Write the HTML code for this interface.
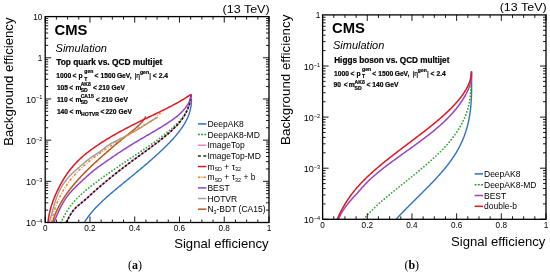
<!DOCTYPE html>
<html><head><meta charset="utf-8"><title>CMS ROC curves</title>
<style>
html,body{margin:0;padding:0;background:#fff;}
body{width:550px;height:273px;overflow:hidden;}
svg{display:block;}
text{font-family:'Liberation Sans', Arial, Helvetica, sans-serif;fill:#000;}
.serif{font-family:'Liberation Serif','Times New Roman',serif;}
.ib{stroke:#000;stroke-width:0.2px;}
.tb{stroke:#000;stroke-width:0.2px;}
</style></head><body>
<svg width="550" height="273" viewBox="0 0 550 273">
<rect width="550" height="273" fill="#fff"/>
<path d="M84.43,222.50 L84.83,221.80 L85.24,221.10 L85.67,220.40 L86.12,219.70 L86.58,219.00 L87.05,218.30 L87.54,217.60 L88.04,216.90 L88.55,216.20 L89.08,215.50 L89.62,214.80 L90.18,214.10 L90.74,213.40 L91.32,212.70 L91.91,212.00 L92.51,211.30 L93.13,210.60 L93.75,209.90 L94.38,209.20 L95.03,208.50 L95.69,207.80 L96.35,207.10 L97.03,206.40 L97.71,205.70 L98.41,205.00 L99.11,204.30 L99.82,203.60 L100.54,202.90 L101.27,202.20 L102.01,201.50 L102.76,200.80 L103.51,200.10 L104.27,199.40 L105.03,198.70 L105.81,198.00 L106.59,197.30 L107.37,196.60 L108.16,195.90 L108.96,195.20 L109.76,194.50 L110.57,193.80 L111.39,193.10 L112.20,192.40 L113.02,191.70 L113.85,191.00 L114.68,190.30 L115.51,189.60 L116.35,188.90 L117.19,188.20 L118.03,187.50 L118.88,186.80 L119.73,186.10 L120.58,185.40 L121.43,184.70 L122.29,184.00 L123.14,183.30 L124.00,182.60 L124.86,181.90 L125.72,181.20 L126.58,180.50 L127.44,179.80 L128.30,179.10 L129.16,178.40 L130.01,177.70 L130.87,177.00 L131.73,176.30 L132.59,175.60 L133.44,174.90 L134.30,174.20 L135.15,173.50 L136.00,172.80 L136.85,172.10 L137.69,171.40 L138.54,170.70 L139.38,170.00 L140.21,169.30 L141.05,168.60 L141.88,167.90 L142.71,167.20 L143.53,166.50 L144.36,165.80 L145.18,165.10 L145.99,164.40 L146.81,163.70 L147.62,163.00 L148.43,162.30 L149.23,161.60 L150.03,160.90 L150.83,160.20 L151.62,159.50 L152.41,158.80 L153.20,158.10 L153.99,157.40 L154.77,156.70 L155.54,156.00 L156.32,155.30 L157.08,154.60 L157.85,153.90 L158.61,153.20 L159.37,152.50 L160.12,151.80 L160.87,151.10 L161.61,150.40 L162.35,149.70 L163.08,149.00 L163.81,148.30 L164.53,147.60 L165.25,146.90 L165.96,146.20 L166.66,145.50 L167.36,144.80 L168.05,144.10 L168.73,143.40 L169.41,142.70 L170.08,142.00 L170.74,141.30 L171.40,140.60 L172.05,139.90 L172.69,139.20 L173.32,138.50 L173.94,137.80 L174.56,137.10 L175.17,136.40 L175.77,135.70 L176.36,135.00 L176.94,134.30 L177.51,133.60 L178.07,132.90 L178.62,132.20 L179.17,131.50 L179.70,130.80 L180.22,130.10 L180.73,129.40 L181.23,128.70 L181.73,128.00 L182.21,127.30 L182.67,126.60 L183.13,125.90 L183.58,125.20 L184.01,124.50 L184.43,123.80 L184.85,123.10 L185.24,122.40 L185.63,121.70 L186.00,121.00 L186.36,120.30 L186.71,119.60 L187.05,118.90 L187.37,118.20 L187.68,117.50 L187.98,116.80 L188.26,116.10 L188.53,115.40 L188.79,114.70 L189.04,114.00 L189.27,113.30 L189.49,112.60 L189.70,111.90 L189.90,111.20 L190.08,110.50 L190.26,109.80 L190.42,109.10 L190.56,108.40 L190.70,107.70 L190.82,107.00 L190.93,106.30 L191.03,105.60 L191.12,104.90 L191.20,104.20 L191.26,103.50 L191.31,102.80 L191.35,102.10 L191.38,101.40 L191.40,100.70 L191.41,100.00 L191.40,99.30 L191.38,98.60 L191.35,97.90 L191.31,97.20 L191.26,96.50 L191.19,95.80 L191.12,95.10 L191.03,94.40" stroke="#2f72c0" stroke-width="1.4" fill="none" stroke-linejoin="round" stroke-linecap="butt"/>
<path d="M61.03,222.50 L61.38,221.80 L61.72,221.10 L62.06,220.40 L62.41,219.70 L62.75,219.00 L63.10,218.30 L63.45,217.60 L63.81,216.90 L64.17,216.20 L64.53,215.50 L64.91,214.80 L65.28,214.10 L65.67,213.40 L66.07,212.70 L66.47,212.00 L66.88,211.30 L67.30,210.60 L67.74,209.90 L68.18,209.20 L68.64,208.50 L69.12,207.80 L69.60,207.10 L70.10,206.40 L70.62,205.70 L71.15,205.00 L71.70,204.30 L72.26,203.60 L72.85,202.90 L73.45,202.20 L74.07,201.50 L74.70,200.80 L75.35,200.10 L76.02,199.40 L76.70,198.70 L77.39,198.00 L78.10,197.30 L78.83,196.60 L79.56,195.90 L80.32,195.20 L81.08,194.50 L81.86,193.80 L82.64,193.10 L83.44,192.40 L84.26,191.70 L85.08,191.00 L85.91,190.30 L86.75,189.60 L87.61,188.90 L88.47,188.20 L89.34,187.50 L90.22,186.80 L91.11,186.10 L92.00,185.40 L92.91,184.70 L93.82,184.00 L94.73,183.30 L95.66,182.60 L96.59,181.90 L97.52,181.20 L98.47,180.50 L99.42,179.80 L100.37,179.10 L101.33,178.40 L102.30,177.70 L103.27,177.00 L104.25,176.30 L105.23,175.60 L106.22,174.90 L107.21,174.20 L108.21,173.50 L109.21,172.80 L110.21,172.10 L111.22,171.40 L112.24,170.70 L113.25,170.00 L114.27,169.30 L115.30,168.60 L116.32,167.90 L117.35,167.20 L118.38,166.50 L119.42,165.80 L120.45,165.10 L121.49,164.40 L122.53,163.70 L123.58,163.00 L124.62,162.30 L125.67,161.60 L126.71,160.90 L127.76,160.20 L128.81,159.50 L129.86,158.80 L130.91,158.10 L131.96,157.40 L133.01,156.70 L134.06,156.00 L135.11,155.30 L136.16,154.60 L137.21,153.90 L138.26,153.20 L139.30,152.50 L140.35,151.80 L141.39,151.10 L142.43,150.40 L143.46,149.70 L144.49,149.00 L145.52,148.30 L146.55,147.60 L147.57,146.90 L148.58,146.20 L149.59,145.50 L150.60,144.80 L151.60,144.10 L152.59,143.40 L153.58,142.70 L154.57,142.00 L155.54,141.30 L156.51,140.60 L157.47,139.90 L158.42,139.20 L159.37,138.50 L160.30,137.80 L161.23,137.10 L162.15,136.40 L163.06,135.70 L163.96,135.00 L164.85,134.30 L165.73,133.60 L166.60,132.90 L167.45,132.20 L168.30,131.50 L169.14,130.80 L169.96,130.10 L170.77,129.40 L171.57,128.70 L172.36,128.00 L173.13,127.30 L173.89,126.60 L174.63,125.90 L175.36,125.20 L176.08,124.50 L176.78,123.80 L177.47,123.10 L178.14,122.40 L178.80,121.70 L179.44,121.00 L180.06,120.30 L180.67,119.60 L181.26,118.90 L181.83,118.20 L182.38,117.50 L182.92,116.80 L183.44,116.10 L183.94,115.40 L184.43,114.70 L184.90,114.00 L185.35,113.30 L185.78,112.60 L186.19,111.90 L186.59,111.20 L186.97,110.50 L187.34,109.80 L187.68,109.10 L188.01,108.40 L188.32,107.70 L188.61,107.00 L188.89,106.30 L189.14,105.60 L189.38,104.90 L189.60,104.20 L189.81,103.50 L190.00,102.80 L190.17,102.10 L190.32,101.40 L190.45,100.70 L190.57,100.00 L190.67,99.30 L190.75,98.60 L190.82,97.90 L190.86,97.20 L190.89,96.50 L190.90,95.80 L190.90,95.10 L190.87,94.40" stroke="#2aa52a" stroke-width="1.8" fill="none" stroke-linejoin="round" stroke-linecap="round" stroke-dasharray="0 3.2"/>
<path d="M66.12,222.50 L66.52,221.80 L66.91,221.10 L67.29,220.40 L67.67,219.70 L68.04,219.00 L68.41,218.30 L68.78,217.60 L69.16,216.90 L69.55,216.20 L69.94,215.50 L70.35,214.80 L70.77,214.10 L71.21,213.40 L71.67,212.70 L72.16,212.00 L72.67,211.30 L73.21,210.60 L73.78,209.90 L74.38,209.20 L75.02,208.50 L75.70,207.80 L76.42,207.10 L77.18,206.40 L78.00,205.70 L78.85,205.00 L79.72,204.30 L80.60,203.60 L81.46,202.90 L82.31,202.20 L83.14,201.50 L83.96,200.80 L84.77,200.10 L85.56,199.40 L86.35,198.70 L87.13,198.00 L87.90,197.30 L88.67,196.60 L89.44,195.90 L90.20,195.20 L90.97,194.50 L91.74,193.80 L92.51,193.10 L93.28,192.40 L94.06,191.70 L94.85,191.00 L95.64,190.30 L96.43,189.60 L97.23,188.90 L98.03,188.20 L98.83,187.50 L99.64,186.80 L100.45,186.10 L101.27,185.40 L102.09,184.70 L102.91,184.00 L103.74,183.30 L104.57,182.60 L105.41,181.90 L106.25,181.20 L107.10,180.50 L107.94,179.80 L108.80,179.10 L109.65,178.40 L110.51,177.70 L111.37,177.00 L112.24,176.30 L113.11,175.60 L113.99,174.90 L114.87,174.20 L115.75,173.50 L116.64,172.80 L117.53,172.10 L118.42,171.40 L119.32,170.70 L120.22,170.00 L121.12,169.30 L122.03,168.60 L122.94,167.90 L123.86,167.20 L124.78,166.50 L125.70,165.80 L126.63,165.10 L127.56,164.40 L128.49,163.70 L129.43,163.00 L130.37,162.30 L131.31,161.60 L132.26,160.90 L133.21,160.20 L134.16,159.50 L135.12,158.80 L136.08,158.10 L137.04,157.40 L138.00,156.70 L138.97,156.00 L139.93,155.30 L140.90,154.60 L141.86,153.90 L142.83,153.20 L143.79,152.50 L144.75,151.80 L145.72,151.10 L146.68,150.40 L147.63,149.70 L148.59,149.00 L149.54,148.30 L150.49,147.60 L151.44,146.90 L152.38,146.20 L153.32,145.50 L154.25,144.80 L155.18,144.10 L156.10,143.40 L157.02,142.70 L157.93,142.00 L158.84,141.30 L159.74,140.60 L160.63,139.90 L161.51,139.20 L162.39,138.50 L163.25,137.80 L164.11,137.10 L164.96,136.40 L165.80,135.70 L166.63,135.00 L167.45,134.30 L168.26,133.60 L169.06,132.90 L169.85,132.20 L170.63,131.50 L171.39,130.80 L172.14,130.10 L172.88,129.40 L173.61,128.70 L174.32,128.00 L175.02,127.30 L175.71,126.60 L176.38,125.90 L177.04,125.20 L177.68,124.50 L178.30,123.80 L178.91,123.10 L179.50,122.40 L180.08,121.70 L180.64,121.00 L181.18,120.30 L181.71,119.60 L182.21,118.90 L182.70,118.20 L183.18,117.50 L183.63,116.80 L184.08,116.10 L184.50,115.40 L184.91,114.70 L185.30,114.00 L185.68,113.30 L186.04,112.60 L186.39,111.90 L186.72,111.20 L187.04,110.50 L187.35,109.80 L187.64,109.10 L187.92,108.40 L188.18,107.70 L188.43,107.00 L188.67,106.30 L188.90,105.60 L189.11,104.90 L189.31,104.20 L189.50,103.50 L189.68,102.80 L189.85,102.10 L190.00,101.40 L190.15,100.70 L190.28,100.00 L190.41,99.30 L190.52,98.60 L190.62,97.90 L190.72,97.20 L190.81,96.50 L190.88,95.80 L190.95,95.10 L191.01,94.40" stroke="#f283c4" stroke-width="1.6" fill="none" stroke-linejoin="round" stroke-linecap="butt"/>
<path d="M66.12,222.50 L66.52,221.80 L66.91,221.10 L67.29,220.40 L67.67,219.70 L68.04,219.00 L68.41,218.30 L68.78,217.60 L69.16,216.90 L69.55,216.20 L69.94,215.50 L70.35,214.80 L70.77,214.10 L71.21,213.40 L71.67,212.70 L72.16,212.00 L72.67,211.30 L73.21,210.60 L73.78,209.90 L74.38,209.20 L75.02,208.50 L75.70,207.80 L76.42,207.10 L77.18,206.40 L78.00,205.70 L78.85,205.00 L79.72,204.30 L80.60,203.60 L81.46,202.90 L82.31,202.20 L83.14,201.50 L83.96,200.80 L84.77,200.10 L85.56,199.40 L86.35,198.70 L87.13,198.00 L87.90,197.30 L88.67,196.60 L89.44,195.90 L90.20,195.20 L90.97,194.50 L91.74,193.80 L92.51,193.10 L93.28,192.40 L94.06,191.70 L94.85,191.00 L95.64,190.30 L96.43,189.60 L97.23,188.90 L98.03,188.20 L98.83,187.50 L99.64,186.80 L100.45,186.10 L101.27,185.40 L102.09,184.70 L102.91,184.00 L103.74,183.30 L104.57,182.60 L105.41,181.90 L106.25,181.20 L107.10,180.50 L107.94,179.80 L108.80,179.10 L109.65,178.40 L110.51,177.70 L111.37,177.00 L112.24,176.30 L113.11,175.60 L113.99,174.90 L114.87,174.20 L115.75,173.50 L116.64,172.80 L117.53,172.10 L118.42,171.40 L119.32,170.70 L120.22,170.00 L121.12,169.30 L122.03,168.60 L122.94,167.90 L123.86,167.20 L124.78,166.50 L125.70,165.80 L126.63,165.10 L127.56,164.40 L128.49,163.70 L129.43,163.00 L130.37,162.30 L131.31,161.60 L132.26,160.90 L133.21,160.20 L134.16,159.50 L135.12,158.80 L136.08,158.10 L137.04,157.40 L138.00,156.70 L138.97,156.00 L139.93,155.30 L140.90,154.60 L141.86,153.90 L142.83,153.20 L143.79,152.50 L144.75,151.80 L145.72,151.10 L146.68,150.40 L147.63,149.70 L148.59,149.00 L149.54,148.30 L150.49,147.60 L151.44,146.90 L152.38,146.20 L153.32,145.50 L154.25,144.80 L155.18,144.10 L156.10,143.40 L157.02,142.70 L157.93,142.00 L158.84,141.30 L159.74,140.60 L160.63,139.90 L161.51,139.20 L162.39,138.50 L163.25,137.80 L164.11,137.10 L164.96,136.40 L165.80,135.70 L166.63,135.00 L167.45,134.30 L168.26,133.60 L169.06,132.90 L169.85,132.20 L170.63,131.50 L171.39,130.80 L172.14,130.10 L172.88,129.40 L173.61,128.70 L174.32,128.00 L175.02,127.30 L175.71,126.60 L176.38,125.90 L177.04,125.20 L177.68,124.50 L178.30,123.80 L178.91,123.10 L179.50,122.40 L180.08,121.70 L180.64,121.00 L181.18,120.30 L181.71,119.60 L182.21,118.90 L182.70,118.20 L183.18,117.50 L183.63,116.80 L184.08,116.10 L184.50,115.40 L184.91,114.70 L185.30,114.00 L185.68,113.30 L186.04,112.60 L186.39,111.90 L186.72,111.20 L187.04,110.50 L187.35,109.80 L187.64,109.10 L187.92,108.40 L188.18,107.70 L188.43,107.00 L188.67,106.30 L188.90,105.60 L189.11,104.90 L189.31,104.20 L189.50,103.50 L189.68,102.80 L189.85,102.10 L190.00,101.40 L190.15,100.70 L190.28,100.00 L190.41,99.30 L190.52,98.60 L190.62,97.90 L190.72,97.20 L190.81,96.50 L190.88,95.80 L190.95,95.10 L191.01,94.40" stroke="#111" stroke-width="1.6" fill="none" stroke-linejoin="round" stroke-linecap="butt" stroke-dasharray="2.3 1.8"/>
<path d="M53.74,222.50 L54.05,221.80 L54.36,221.10 L54.66,220.40 L54.96,219.70 L55.26,219.00 L55.57,218.30 L55.87,217.60 L56.17,216.90 L56.47,216.20 L56.77,215.50 L57.07,214.80 L57.38,214.10 L57.69,213.40 L58.00,212.70 L58.31,212.00 L58.63,211.30 L58.96,210.60 L59.28,209.90 L59.62,209.20 L59.96,208.50 L60.30,207.80 L60.65,207.10 L61.01,206.40 L61.38,205.70 L61.76,205.00 L62.14,204.30 L62.53,203.60 L62.93,202.90 L63.35,202.20 L63.77,201.50 L64.20,200.80 L64.65,200.10 L65.10,199.40 L65.57,198.70 L66.06,198.00 L66.55,197.30 L67.06,196.60 L67.58,195.90 L68.12,195.20 L68.67,194.50 L69.24,193.80 L69.82,193.10 L70.42,192.40 L71.04,191.70 L71.67,191.00 L72.32,190.30 L72.99,189.60 L73.67,188.90 L74.35,188.20 L75.05,187.50 L75.77,186.80 L76.48,186.10 L77.21,185.40 L77.94,184.70 L78.68,184.00 L79.43,183.30 L80.17,182.60 L80.92,181.90 L81.67,181.20 L82.42,180.50 L83.17,179.80 L83.92,179.10 L84.68,178.40 L85.44,177.70 L86.20,177.00 L86.97,176.30 L87.75,175.60 L88.54,174.90 L89.34,174.20 L90.15,173.50 L90.97,172.80 L91.80,172.10 L92.65,171.40 L93.51,170.70 L94.39,170.00 L95.28,169.30 L96.20,168.60 L97.12,167.90 L98.06,167.20 L99.02,166.50 L99.98,165.80 L100.96,165.10 L101.94,164.40 L102.94,163.70 L103.94,163.00 L104.95,162.30 L105.96,161.60 L106.98,160.90 L108.00,160.20 L109.03,159.50 L110.05,158.80 L111.08,158.10 L112.10,157.40 L113.13,156.70 L114.15,156.00 L115.18,155.30 L116.21,154.60 L117.24,153.90 L118.27,153.20 L119.31,152.50 L120.36,151.80 L121.42,151.10 L122.48,150.40 L123.56,149.70 L124.64,149.00 L125.73,148.30 L126.83,147.60 L127.94,146.90 L129.06,146.20 L130.19,145.50 L131.33,144.80 L132.47,144.10 L133.62,143.40 L134.78,142.70 L135.94,142.00 L137.11,141.30 L138.28,140.60 L139.46,139.90 L140.65,139.20 L141.83,138.50 L143.03,137.80 L144.22,137.10 L145.42,136.40 L146.63,135.70 L147.83,135.00 L149.03,134.30 L150.24,133.60 L151.44,132.90 L152.64,132.20 L153.84,131.50 L155.03,130.80 L156.22,130.10 L157.40,129.40 L158.57,128.70 L159.73,128.00 L160.89,127.30 L162.03,126.60 L163.16,125.90 L164.28,125.20 L165.39,124.50 L166.48,123.80 L167.55,123.10 L168.61,122.40 L169.65,121.70 L170.67,121.00 L171.67,120.30 L172.65,119.60 L173.61,118.90 L174.55,118.20 L175.46,117.50 L176.35,116.80 L177.21,116.10 L178.05,115.40 L178.85,114.70 L179.64,114.00 L180.39,113.30 L181.12,112.60 L181.83,111.90 L182.50,111.20 L183.16,110.50 L183.78,109.80 L184.38,109.10 L184.95,108.40 L185.50,107.70 L186.02,107.00 L186.52,106.30 L186.99,105.60 L187.43,104.90 L187.85,104.20 L188.24,103.50 L188.60,102.80 L188.94,102.10 L189.26,101.40 L189.55,100.70 L189.81,100.00 L190.05,99.30 L190.26,98.60 L190.45,97.90 L190.61,97.20 L190.74,96.50 L190.85,95.80 L190.94,95.10 L191.00,94.40" stroke="#9445c4" stroke-width="1.5" fill="none" stroke-linejoin="round" stroke-linecap="butt"/>
<path d="M52.61,222.50 L52.79,221.80 L52.97,221.10 L53.17,220.40 L53.37,219.70 L53.58,219.00 L53.80,218.30 L54.03,217.60 L54.27,216.90 L54.51,216.20 L54.77,215.50 L55.03,214.80 L55.30,214.10 L55.58,213.40 L55.87,212.70 L56.17,212.00 L56.47,211.30 L56.79,210.60 L57.11,209.90 L57.44,209.20 L57.77,208.50 L58.12,207.80 L58.47,207.10 L58.83,206.40 L59.20,205.70 L59.58,205.00 L59.96,204.30 L60.35,203.60 L60.75,202.90 L61.16,202.20 L61.57,201.50 L62.00,200.80 L62.43,200.10 L62.86,199.40 L63.31,198.70 L63.76,198.00 L64.22,197.30 L64.69,196.60 L65.16,195.90 L65.64,195.20 L66.13,194.50 L66.63,193.80 L67.13,193.10 L67.64,192.40 L68.16,191.70 L68.68,191.00 L69.21,190.30 L69.75,189.60 L70.29,188.90 L70.84,188.20 L71.40,187.50 L71.96,186.80 L72.54,186.10 L73.11,185.40 L73.70,184.70 L74.29,184.00 L74.88,183.30 L75.49,182.60 L76.10,181.90 L76.71,181.20 L77.33,180.50 L77.96,179.80 L78.60,179.10 L79.24,178.40 L79.88,177.70 L80.54,177.00 L81.20,176.30 L81.86,175.60 L82.53,174.90 L83.21,174.20 L83.89,173.50 L84.58,172.80 L85.27,172.10 L85.97,171.40 L86.67,170.70 L87.38,170.00 L88.10,169.30 L88.82,168.60 L89.54,167.90 L90.27,167.20 L91.00,166.50 L91.74,165.80 L92.48,165.10 L93.23,164.40 L93.98,163.70 L94.73,163.00 L95.49,162.30 L96.25,161.60 L97.02,160.90 L97.78,160.20 L98.56,159.50 L99.33,158.80 L100.11,158.10 L100.89,157.40 L101.67,156.70 L102.46,156.00 L103.25,155.30 L104.04,154.60 L104.83,153.90 L105.63,153.20 L106.43,152.50 L107.23,151.80 L108.03,151.10 L108.83,150.40 L109.64,149.70 L110.45,149.00 L111.26,148.30 L112.07,147.60 L112.88,146.90 L113.70,146.20 L114.52,145.50 L115.35,144.80 L116.18,144.10 L117.01,143.40 L117.85,142.70 L118.69,142.00 L119.54,141.30 L120.39,140.60 L121.24,139.90 L122.10,139.20 L122.97,138.50 L123.84,137.80 L124.71,137.10 L125.59,136.40 L126.47,135.70 L127.34,135.00 L128.22,134.30 L129.10,133.60 L129.97,132.90 L130.84,132.20 L131.70,131.50 L132.56,130.80 L133.41,130.10 L134.24,129.40 L135.07,128.70 L135.88,128.00 L136.67,127.30 L137.44,126.60 L138.20,125.90 L138.93,125.20 L139.64,124.50 L140.32,123.80 L140.98,123.10 L141.61,122.40 L142.20,121.70 L142.77,121.00 L143.30,120.30 L143.79,119.60 L144.24,118.90 L144.66,118.20 L145.03,117.50 L145.36,116.80 L145.65,116.10 L145.65,116.10" stroke="#b8561e" stroke-width="1.5" fill="none" stroke-linejoin="round" stroke-linecap="butt"/>
<path d="M49.07,222.50 L49.32,221.80 L49.56,221.10 L49.80,220.40 L50.02,219.70 L50.25,219.00 L50.47,218.30 L50.68,217.60 L50.89,216.90 L51.10,216.20 L51.30,215.50 L51.50,214.80 L51.70,214.10 L51.90,213.40 L52.09,212.70 L52.28,212.00 L52.48,211.30 L52.67,210.60 L52.86,209.90 L53.05,209.20 L53.24,208.50 L53.43,207.80 L53.62,207.10 L53.82,206.40 L54.02,205.70 L54.22,205.00 L54.42,204.30 L54.63,203.60 L54.84,202.90 L55.05,202.20 L55.27,201.50 L55.49,200.80 L55.72,200.10 L55.96,199.40 L56.20,198.70 L56.44,198.00 L56.70,197.30 L56.96,196.60 L57.23,195.90 L57.50,195.20 L57.79,194.50 L58.08,193.80 L58.38,193.10 L58.70,192.40 L59.02,191.70 L59.35,191.00 L59.69,190.30 L60.05,189.60 L60.42,188.90 L60.79,188.20 L61.18,187.50 L61.59,186.80 L62.00,186.10 L62.43,185.40 L62.88,184.70 L63.34,184.00 L63.81,183.30 L64.30,182.60 L64.80,181.90 L65.32,181.20 L65.85,180.50 L66.41,179.80 L66.98,179.10 L67.56,178.40 L68.17,177.70 L68.79,177.00 L69.43,176.30 L70.09,175.60 L70.77,174.90 L71.47,174.20 L72.18,173.50 L72.91,172.80 L73.66,172.10 L74.42,171.40 L75.19,170.70 L75.97,170.00 L76.76,169.30 L77.56,168.60 L78.37,167.90 L79.18,167.20 L80.00,166.50 L80.81,165.80 L81.63,165.10 L82.45,164.40 L83.27,163.70 L84.09,163.00 L84.91,162.30 L85.75,161.60 L86.60,160.90 L87.46,160.20 L88.35,159.50 L89.27,158.80 L90.21,158.10 L91.20,157.40 L92.23,156.70 L93.29,156.00 L94.37,155.30 L95.46,154.60 L96.56,153.90 L97.65,153.20 L98.72,152.50 L99.76,151.80 L100.76,151.10 L101.72,150.40 L102.61,149.70 L103.45,149.00 L104.27,148.30 L105.09,147.60 L105.95,146.90 L106.88,146.20 L107.88,145.50 L108.96,144.80 L110.12,144.10 L111.33,143.40 L112.59,142.70 L113.90,142.00 L115.24,141.30 L116.62,140.60 L118.01,139.90 L119.41,139.20 L120.82,138.50 L122.23,137.80 L123.63,137.10 L125.02,136.40 L126.40,135.70 L127.77,135.00 L129.12,134.30 L130.45,133.60 L131.76,132.90 L133.05,132.20 L134.30,131.50 L135.53,130.80 L136.73,130.10 L137.90,129.40 L139.04,128.70 L140.16,128.00 L141.26,127.30 L142.35,126.60 L143.43,125.90 L144.51,125.20 L145.59,124.50 L146.68,123.80 L147.78,123.10 L148.89,122.40 L150.02,121.70 L151.18,121.00 L152.37,120.30 L153.59,119.60 L154.85,118.90 L156.15,118.20 L157.30,117.60" stroke="#a0a0a0" stroke-width="1.5" fill="none" stroke-linejoin="round" stroke-linecap="round"/>
<path d="M51.44,222.50 L51.58,221.80 L51.71,221.10 L51.86,220.40 L52.00,219.70 L52.15,219.00 L52.31,218.30 L52.47,217.60 L52.63,216.90 L52.80,216.20 L52.97,215.50 L53.15,214.80 L53.34,214.10 L53.53,213.40 L53.72,212.70 L53.92,212.00 L54.12,211.30 L54.33,210.60 L54.55,209.90 L54.77,209.20 L55.00,208.50 L55.23,207.80 L55.47,207.10 L55.72,206.40 L55.97,205.70 L56.23,205.00 L56.49,204.30 L56.76,203.60 L57.04,202.90 L57.32,202.20 L57.61,201.50 L57.91,200.80 L58.21,200.10 L58.52,199.40 L58.84,198.70 L59.17,198.00 L59.50,197.30 L59.84,196.60 L60.19,195.90 L60.54,195.20 L60.91,194.50 L61.28,193.80 L61.66,193.10 L62.04,192.40 L62.44,191.70 L62.84,191.00 L63.25,190.30 L63.67,189.60 L64.10,188.90 L64.54,188.20 L64.99,187.50 L65.44,186.80 L65.90,186.10 L66.38,185.40 L66.86,184.70 L67.35,184.00 L67.85,183.30 L68.36,182.60 L68.87,181.90 L69.40,181.20 L69.94,180.50 L70.49,179.80 L71.04,179.10 L71.61,178.40 L72.19,177.70 L72.78,177.00 L73.38,176.30 L73.99,175.60 L74.61,174.90 L75.24,174.20 L75.88,173.50 L76.54,172.80 L77.20,172.10 L77.88,171.40 L78.58,170.70 L79.28,170.00 L80.00,169.30 L80.73,168.60 L81.47,167.90 L82.22,167.20 L82.99,166.50 L83.78,165.80 L84.57,165.10 L85.38,164.40 L86.21,163.70 L87.05,163.00 L87.90,162.30 L88.76,161.60 L89.64,160.90 L90.53,160.20 L91.43,159.50 L92.34,158.80 L93.26,158.10 L94.19,157.40 L95.13,156.70 L96.08,156.00 L97.04,155.30 L98.00,154.60 L98.97,153.90 L99.94,153.20 L100.92,152.50 L101.91,151.80 L102.90,151.10 L103.89,150.40 L104.88,149.70 L105.89,149.00 L106.91,148.30 L107.95,147.60 L109.02,146.90 L110.11,146.20 L111.23,145.50 L112.36,144.80 L113.50,144.10 L114.65,143.40 L115.81,142.70 L116.96,142.00 L118.12,141.30 L119.26,140.60 L120.40,139.90 L121.52,139.20 L122.63,138.50 L123.72,137.80 L124.80,137.10 L125.88,136.40 L126.95,135.70 L128.01,135.00 L129.08,134.30 L130.14,133.60 L131.22,132.90 L132.29,132.20 L133.38,131.50 L134.48,130.80 L135.60,130.10 L136.73,129.40 L137.88,128.70 L139.06,128.00 L140.26,127.30 L141.48,126.60 L142.74,125.90 L144.02,125.20 L145.32,124.50 L146.62,123.80 L147.90,123.10 L149.16,122.40 L150.37,121.70 L151.54,121.00 L152.63,120.30 L153.64,119.60 L154.55,118.90 L155.36,118.20 L156.04,117.50 L156.59,116.80 L157.08,116.10 L157.61,115.40 L158.29,114.70 L159.24,114.00 L160.55,113.30 L160.77,113.20" stroke="#f58220" stroke-width="1.5" fill="none" stroke-linejoin="round" stroke-linecap="butt" stroke-dasharray="2.6 1.6 0.8 1.6"/>
<path d="M47.99,222.50 L48.06,221.80 L48.14,221.10 L48.23,220.40 L48.32,219.70 L48.42,219.00 L48.52,218.30 L48.63,217.60 L48.75,216.90 L48.87,216.20 L49.00,215.50 L49.14,214.80 L49.28,214.10 L49.43,213.40 L49.58,212.70 L49.74,212.00 L49.91,211.30 L50.08,210.60 L50.26,209.90 L50.44,209.20 L50.63,208.50 L50.83,207.80 L51.03,207.10 L51.24,206.40 L51.45,205.70 L51.67,205.00 L51.90,204.30 L52.13,203.60 L52.37,202.90 L52.61,202.20 L52.86,201.50 L53.11,200.80 L53.37,200.10 L53.63,199.40 L53.90,198.70 L54.18,198.00 L54.46,197.30 L54.75,196.60 L55.04,195.90 L55.33,195.20 L55.64,194.50 L55.94,193.80 L56.26,193.10 L56.57,192.40 L56.90,191.70 L57.22,191.00 L57.56,190.30 L57.89,189.60 L58.24,188.90 L58.59,188.20 L58.94,187.50 L59.30,186.80 L59.66,186.10 L60.03,185.40 L60.40,184.70 L60.78,184.00 L61.16,183.30 L61.55,182.60 L61.95,181.90 L62.35,181.20 L62.76,180.50 L63.17,179.80 L63.59,179.10 L64.02,178.40 L64.46,177.70 L64.90,177.00 L65.35,176.30 L65.82,175.60 L66.29,174.90 L66.76,174.20 L67.25,173.50 L67.75,172.80 L68.26,172.10 L68.78,171.40 L69.30,170.70 L69.84,170.00 L70.39,169.30 L70.95,168.60 L71.52,167.90 L72.11,167.20 L72.70,166.50 L73.31,165.80 L73.93,165.10 L74.57,164.40 L75.21,163.70 L75.87,163.00 L76.55,162.30 L77.24,161.60 L77.94,160.90 L78.65,160.20 L79.39,159.50 L80.13,158.80 L80.89,158.10 L81.67,157.40 L82.46,156.70 L83.27,156.00 L84.09,155.30 L84.93,154.60 L85.78,153.90 L86.65,153.20 L87.53,152.50 L88.43,151.80 L89.34,151.10 L90.26,150.40 L91.20,149.70 L92.15,149.00 L93.12,148.30 L94.10,147.60 L95.10,146.90 L96.11,146.20 L97.13,145.50 L98.17,144.80 L99.22,144.10 L100.28,143.40 L101.36,142.70 L102.45,142.00 L103.55,141.30 L104.66,140.60 L105.79,139.90 L106.93,139.20 L108.09,138.50 L109.26,137.80 L110.44,137.10 L111.63,136.40 L112.83,135.70 L114.05,135.00 L115.28,134.30 L116.52,133.60 L117.77,132.90 L119.03,132.20 L120.31,131.50 L121.60,130.80 L122.90,130.10 L124.21,129.40 L125.53,128.70 L126.86,128.00 L128.21,127.30 L129.56,126.60 L130.93,125.90 L132.31,125.20 L133.70,124.50 L135.10,123.80 L136.51,123.10 L137.93,122.40 L139.36,121.70 L140.79,121.00 L142.24,120.30 L143.69,119.60 L145.14,118.90 L146.60,118.20 L148.06,117.50 L149.52,116.80 L150.98,116.10 L152.44,115.40 L153.90,114.70 L155.36,114.00 L156.81,113.30 L158.25,112.60 L159.69,111.90 L161.12,111.20 L162.55,110.50 L163.96,109.80 L165.36,109.10 L166.75,108.40 L168.13,107.70 L169.49,107.00 L170.84,106.30 L172.17,105.60 L173.49,104.90 L174.79,104.20 L176.08,103.50 L177.34,102.80 L178.59,102.10 L179.82,101.40 L181.02,100.70 L182.21,100.00 L183.37,99.30 L184.52,98.60 L185.64,97.90 L186.73,97.20 L187.80,96.50 L188.84,95.80 L189.86,95.10 L190.85,94.40" stroke="#e6151d" stroke-width="1.5" fill="none" stroke-linejoin="round" stroke-linecap="butt"/>
<path d="M396.08,219.30 L396.72,218.60 L397.36,217.90 L398.01,217.20 L398.67,216.50 L399.32,215.80 L399.99,215.10 L400.65,214.40 L401.32,213.70 L401.99,213.00 L402.67,212.30 L403.34,211.60 L404.03,210.90 L404.71,210.20 L405.40,209.50 L406.08,208.80 L406.77,208.10 L407.47,207.40 L408.16,206.70 L408.86,206.00 L409.56,205.30 L410.26,204.60 L410.96,203.90 L411.66,203.20 L412.37,202.50 L413.07,201.80 L413.77,201.10 L414.48,200.40 L415.19,199.70 L415.89,199.00 L416.60,198.30 L417.31,197.60 L418.01,196.90 L418.72,196.20 L419.43,195.50 L420.13,194.80 L420.84,194.10 L421.54,193.40 L422.24,192.70 L422.95,192.00 L423.65,191.30 L424.34,190.60 L425.04,189.90 L425.74,189.20 L426.43,188.50 L427.12,187.80 L427.81,187.10 L428.50,186.40 L429.18,185.70 L429.86,185.00 L430.54,184.30 L431.22,183.60 L431.89,182.90 L432.56,182.20 L433.23,181.50 L433.89,180.80 L434.55,180.10 L435.20,179.40 L435.85,178.70 L436.50,178.00 L437.14,177.30 L437.78,176.60 L438.41,175.90 L439.04,175.20 L439.67,174.50 L440.29,173.80 L440.90,173.10 L441.51,172.40 L442.11,171.70 L442.71,171.00 L443.30,170.30 L443.88,169.60 L444.46,168.90 L445.04,168.20 L445.61,167.50 L446.17,166.80 L446.73,166.10 L447.28,165.40 L447.82,164.70 L448.36,164.00 L448.89,163.30 L449.42,162.60 L449.94,161.90 L450.45,161.20 L450.96,160.50 L451.46,159.80 L451.95,159.10 L452.43,158.40 L452.91,157.70 L453.39,157.00 L453.85,156.30 L454.31,155.60 L454.76,154.90 L455.20,154.20 L455.64,153.50 L456.07,152.80 L456.49,152.10 L456.90,151.40 L457.31,150.70 L457.71,150.00 L458.10,149.30 L458.48,148.60 L458.86,147.90 L459.23,147.20 L459.59,146.50 L459.95,145.80 L460.30,145.10 L460.64,144.40 L460.98,143.70 L461.31,143.00 L461.63,142.30 L461.95,141.60 L462.26,140.90 L462.56,140.20 L462.86,139.50 L463.15,138.80 L463.43,138.10 L463.71,137.40 L463.98,136.70 L464.25,136.00 L464.50,135.30 L464.76,134.60 L465.01,133.90 L465.25,133.20 L465.48,132.50 L465.71,131.80 L465.94,131.10 L466.16,130.40 L466.37,129.70 L466.58,129.00 L466.78,128.30 L466.98,127.60 L467.17,126.90 L467.36,126.20 L467.54,125.50 L467.72,124.80 L467.89,124.10 L468.06,123.40 L468.22,122.70 L468.38,122.00 L468.53,121.30 L468.68,120.60 L468.82,119.90 L468.96,119.20 L469.09,118.50 L469.23,117.80 L469.35,117.10 L469.47,116.40 L469.59,115.70 L469.70,115.00 L469.81,114.30 L469.92,113.60 L470.02,112.90 L470.12,112.20 L470.21,111.50 L470.30,110.80 L470.39,110.10 L470.47,109.40 L470.55,108.70 L470.63,108.00 L470.70,107.30 L470.77,106.60 L470.83,105.90 L470.90,105.20 L470.96,104.50 L471.01,103.80 L471.07,103.10 L471.12,102.40 L471.17,101.70 L471.21,101.00 L471.25,100.30 L471.29,99.60 L471.33,98.90 L471.36,98.20 L471.40,97.50 L471.43,96.80 L471.45,96.10 L471.48,95.40 L471.50,94.70 L471.52,94.00 L471.54,93.30 L471.56,92.60 L471.57,91.90 L471.58,91.20 L471.60,90.50 L471.60,89.80 L471.61,89.10 L471.62,88.40 L471.62,87.70 L471.63,87.00 L471.63,86.30 L471.63,85.60 L471.63,84.90 L471.62,84.20 L471.62,83.50 L471.62,82.80 L471.61,82.10 L471.61,81.40 L471.60,80.70 L471.59,80.00 L471.58,79.30 L471.57,78.60 L471.56,77.90 L471.55,77.20 L471.54,76.50 L471.53,75.80 L471.52,75.10 L471.50,74.40 L471.49,73.70 L471.48,73.00 L471.47,72.30 L471.45,71.60 L471.45,71.40" stroke="#2f72c0" stroke-width="1.4" fill="none" stroke-linejoin="round" stroke-linecap="butt"/>
<path d="M363.88,219.30 L364.43,218.60 L364.99,217.90 L365.56,217.20 L366.15,216.50 L366.76,215.80 L367.37,215.10 L368.00,214.40 L368.64,213.70 L369.29,213.00 L369.96,212.30 L370.63,211.60 L371.32,210.90 L372.01,210.20 L372.71,209.50 L373.43,208.80 L374.15,208.10 L374.88,207.40 L375.62,206.70 L376.37,206.00 L377.12,205.30 L377.89,204.60 L378.66,203.90 L379.44,203.20 L380.22,202.50 L381.02,201.80 L381.81,201.10 L382.62,200.40 L383.43,199.70 L384.25,199.00 L385.07,198.30 L385.90,197.60 L386.73,196.90 L387.57,196.20 L388.41,195.50 L389.25,194.80 L390.10,194.10 L390.96,193.40 L391.81,192.70 L392.67,192.00 L393.53,191.30 L394.40,190.60 L395.27,189.90 L396.13,189.20 L397.01,188.50 L397.88,187.80 L398.75,187.10 L399.63,186.40 L400.50,185.70 L401.38,185.00 L402.25,184.30 L403.13,183.60 L404.01,182.90 L404.88,182.20 L405.76,181.50 L406.63,180.80 L407.51,180.10 L408.38,179.40 L409.25,178.70 L410.12,178.00 L410.99,177.30 L411.86,176.60 L412.72,175.90 L413.59,175.20 L414.45,174.50 L415.31,173.80 L416.17,173.10 L417.02,172.40 L417.88,171.70 L418.73,171.00 L419.57,170.30 L420.41,169.60 L421.25,168.90 L422.09,168.20 L422.92,167.50 L423.75,166.80 L424.58,166.10 L425.40,165.40 L426.21,164.70 L427.02,164.00 L427.83,163.30 L428.63,162.60 L429.43,161.90 L430.22,161.20 L431.01,160.50 L431.79,159.80 L432.56,159.10 L433.33,158.40 L434.10,157.70 L434.85,157.00 L435.60,156.30 L436.35,155.60 L437.09,154.90 L437.82,154.20 L438.54,153.50 L439.26,152.80 L439.97,152.10 L440.67,151.40 L441.36,150.70 L442.05,150.00 L442.73,149.30 L443.40,148.60 L444.06,147.90 L444.71,147.20 L445.36,146.50 L446.00,145.80 L446.62,145.10 L447.24,144.40 L447.85,143.70 L448.46,143.00 L449.05,142.30 L449.64,141.60 L450.21,140.90 L450.78,140.20 L451.34,139.50 L451.89,138.80 L452.44,138.10 L452.97,137.40 L453.50,136.70 L454.02,136.00 L454.53,135.30 L455.03,134.60 L455.52,133.90 L456.01,133.20 L456.49,132.50 L456.95,131.80 L457.41,131.10 L457.87,130.40 L458.31,129.70 L458.75,129.00 L459.17,128.30 L459.59,127.60 L460.00,126.90 L460.40,126.20 L460.80,125.50 L461.19,124.80 L461.56,124.10 L461.93,123.40 L462.30,122.70 L462.65,122.00 L462.99,121.30 L463.33,120.60 L463.66,119.90 L463.98,119.20 L464.30,118.50 L464.60,117.80 L464.90,117.10 L465.19,116.40 L465.47,115.70 L465.74,115.00 L466.01,114.30 L466.26,113.60 L466.51,112.90 L466.75,112.20 L466.99,111.50 L467.21,110.80 L467.43,110.10 L467.64,109.40 L467.84,108.70 L468.03,108.00 L468.22,107.30 L468.40,106.60 L468.57,105.90 L468.73,105.20 L468.89,104.50 L469.03,103.80 L469.18,103.10 L469.31,102.40 L469.44,101.70 L469.56,101.00 L469.67,100.30 L469.78,99.60 L469.89,98.90 L469.99,98.20 L470.08,97.50 L470.16,96.80 L470.25,96.10 L470.32,95.40 L470.40,94.70 L470.47,94.00 L470.53,93.30 L470.59,92.60 L470.65,91.90 L470.70,91.20 L470.75,90.50 L470.80,89.80 L470.84,89.10 L470.88,88.40 L470.92,87.70 L470.95,87.00 L470.98,86.30 L471.01,85.60 L471.04,84.90 L471.07,84.20 L471.10,83.50 L471.12,82.80 L471.14,82.10 L471.17,81.40 L471.19,80.70 L471.21,80.00 L471.23,79.30 L471.25,78.60 L471.27,77.90 L471.30,77.20 L471.32,76.50 L471.34,75.80 L471.36,75.10 L471.39,74.40 L471.41,73.70 L471.44,73.00 L471.47,72.30 L471.50,71.60 L471.51,71.40" stroke="#2aa52a" stroke-width="1.8" fill="none" stroke-linejoin="round" stroke-linecap="round" stroke-dasharray="0 3.2"/>
<path d="M338.36,219.30 L338.67,218.60 L338.99,217.90 L339.31,217.20 L339.65,216.50 L340.00,215.80 L340.36,215.10 L340.73,214.40 L341.11,213.70 L341.51,213.00 L341.91,212.30 L342.33,211.60 L342.76,210.90 L343.20,210.20 L343.65,209.50 L344.11,208.80 L344.59,208.10 L345.08,207.40 L345.58,206.70 L346.09,206.00 L346.62,205.30 L347.16,204.60 L347.71,203.90 L348.27,203.20 L348.85,202.50 L349.44,201.80 L350.04,201.10 L350.65,200.40 L351.27,199.70 L351.90,199.00 L352.53,198.30 L353.17,197.60 L353.82,196.90 L354.46,196.20 L355.10,195.50 L355.74,194.80 L356.38,194.10 L357.02,193.40 L357.64,192.70 L358.26,192.00 L358.88,191.30 L359.50,190.60 L360.11,189.90 L360.73,189.20 L361.35,188.50 L361.97,187.80 L362.59,187.10 L363.22,186.40 L363.86,185.70 L364.51,185.00 L365.17,184.30 L365.83,183.60 L366.52,182.90 L367.21,182.20 L367.92,181.50 L368.64,180.80 L369.37,180.10 L370.11,179.40 L370.87,178.70 L371.63,178.00 L372.41,177.30 L373.20,176.60 L374.00,175.90 L374.80,175.20 L375.62,174.50 L376.45,173.80 L377.29,173.10 L378.13,172.40 L378.98,171.70 L379.85,171.00 L380.72,170.30 L381.59,169.60 L382.48,168.90 L383.37,168.20 L384.27,167.50 L385.18,166.80 L386.09,166.10 L387.01,165.40 L387.93,164.70 L388.86,164.00 L389.80,163.30 L390.73,162.60 L391.68,161.90 L392.63,161.20 L393.58,160.50 L394.53,159.80 L395.49,159.10 L396.46,158.40 L397.42,157.70 L398.39,157.00 L399.36,156.30 L400.33,155.60 L401.30,154.90 L402.28,154.20 L403.26,153.50 L404.23,152.80 L405.21,152.10 L406.19,151.40 L407.17,150.70 L408.14,150.00 L409.12,149.30 L410.10,148.60 L411.07,147.90 L412.04,147.20 L413.01,146.50 L413.98,145.80 L414.95,145.10 L415.91,144.40 L416.88,143.70 L417.83,143.00 L418.79,142.30 L419.74,141.60 L420.69,140.90 L421.63,140.20 L422.56,139.50 L423.50,138.80 L424.42,138.10 L425.35,137.40 L426.26,136.70 L427.17,136.00 L428.08,135.30 L428.97,134.60 L429.86,133.90 L430.75,133.20 L431.62,132.50 L432.49,131.80 L433.35,131.10 L434.21,130.40 L435.05,129.70 L435.89,129.00 L436.72,128.30 L437.54,127.60 L438.35,126.90 L439.16,126.20 L439.95,125.50 L440.74,124.80 L441.51,124.10 L442.28,123.40 L443.03,122.70 L443.78,122.00 L444.52,121.30 L445.25,120.60 L445.96,119.90 L446.67,119.20 L447.37,118.50 L448.06,117.80 L448.74,117.10 L449.41,116.40 L450.08,115.70 L450.73,115.00 L451.37,114.30 L452.01,113.60 L452.63,112.90 L453.25,112.20 L453.85,111.50 L454.45,110.80 L455.04,110.10 L455.62,109.40 L456.19,108.70 L456.75,108.00 L457.30,107.30 L457.84,106.60 L458.37,105.90 L458.90,105.20 L459.41,104.50 L459.92,103.80 L460.42,103.10 L460.90,102.40 L461.38,101.70 L461.85,101.00 L462.32,100.30 L462.77,99.60 L463.21,98.90 L463.65,98.20 L464.07,97.50 L464.49,96.80 L464.89,96.10 L465.29,95.40 L465.67,94.70 L466.05,94.00 L466.41,93.30 L466.77,92.60 L467.11,91.90 L467.44,91.20 L467.76,90.50 L468.07,89.80 L468.37,89.10 L468.66,88.40 L468.93,87.70 L469.19,87.00 L469.44,86.30 L469.68,85.60 L469.90,84.90 L470.11,84.20 L470.31,83.50 L470.49,82.80 L470.66,82.10 L470.82,81.40 L470.96,80.70 L471.09,80.00 L471.21,79.30 L471.31,78.60 L471.39,77.90 L471.46,77.20 L471.52,76.50 L471.56,75.80 L471.58,75.10 L471.59,74.40 L471.58,73.70 L471.56,73.00 L471.52,72.30 L471.47,71.60 L471.45,71.40" stroke="#9445c4" stroke-width="1.5" fill="none" stroke-linejoin="round" stroke-linecap="butt"/>
<path d="M337.16,219.30 L337.47,218.60 L337.78,217.90 L338.10,217.20 L338.42,216.50 L338.75,215.80 L339.08,215.10 L339.41,214.40 L339.75,213.70 L340.10,213.00 L340.45,212.30 L340.80,211.60 L341.16,210.90 L341.53,210.20 L341.90,209.50 L342.28,208.80 L342.66,208.10 L343.05,207.40 L343.44,206.70 L343.84,206.00 L344.25,205.30 L344.66,204.60 L345.08,203.90 L345.51,203.20 L345.94,202.50 L346.38,201.80 L346.83,201.10 L347.28,200.40 L347.74,199.70 L348.21,199.00 L348.69,198.30 L349.18,197.60 L349.67,196.90 L350.17,196.20 L350.68,195.50 L351.19,194.80 L351.72,194.10 L352.25,193.40 L352.80,192.70 L353.35,192.00 L353.91,191.30 L354.48,190.60 L355.05,189.90 L355.64,189.20 L356.23,188.50 L356.83,187.80 L357.44,187.10 L358.06,186.40 L358.69,185.70 L359.32,185.00 L359.97,184.30 L360.62,183.60 L361.28,182.90 L361.95,182.20 L362.62,181.50 L363.31,180.80 L364.00,180.10 L364.70,179.40 L365.41,178.70 L366.13,178.00 L366.85,177.30 L367.58,176.60 L368.32,175.90 L369.07,175.20 L369.83,174.50 L370.59,173.80 L371.36,173.10 L372.13,172.40 L372.92,171.70 L373.71,171.00 L374.50,170.30 L375.31,169.60 L376.12,168.90 L376.93,168.20 L377.75,167.50 L378.58,166.80 L379.41,166.10 L380.25,165.40 L381.09,164.70 L381.94,164.00 L382.79,163.30 L383.65,162.60 L384.51,161.90 L385.38,161.20 L386.25,160.50 L387.12,159.80 L388.00,159.10 L388.89,158.40 L389.77,157.70 L390.66,157.00 L391.56,156.30 L392.46,155.60 L393.36,154.90 L394.26,154.20 L395.17,153.50 L396.08,152.80 L396.99,152.10 L397.90,151.40 L398.82,150.70 L399.74,150.00 L400.66,149.30 L401.58,148.60 L402.50,147.90 L403.43,147.20 L404.35,146.50 L405.28,145.80 L406.20,145.10 L407.13,144.40 L408.06,143.70 L408.99,143.00 L409.92,142.30 L410.84,141.60 L411.77,140.90 L412.70,140.20 L413.62,139.50 L414.55,138.80 L415.47,138.10 L416.39,137.40 L417.31,136.70 L418.23,136.00 L419.15,135.30 L420.06,134.60 L420.97,133.90 L421.88,133.20 L422.79,132.50 L423.69,131.80 L424.59,131.10 L425.49,130.40 L426.38,129.70 L427.27,129.00 L428.15,128.30 L429.03,127.60 L429.91,126.90 L430.78,126.20 L431.65,125.50 L432.51,124.80 L433.37,124.10 L434.22,123.40 L435.07,122.70 L435.91,122.00 L436.74,121.30 L437.57,120.60 L438.40,119.90 L439.22,119.20 L440.03,118.50 L440.83,117.80 L441.63,117.10 L442.42,116.40 L443.21,115.70 L443.98,115.00 L444.75,114.30 L445.52,113.60 L446.27,112.90 L447.02,112.20 L447.76,111.50 L448.49,110.80 L449.21,110.10 L449.93,109.40 L450.63,108.70 L451.33,108.00 L452.02,107.30 L452.70,106.60 L453.37,105.90 L454.03,105.20 L454.68,104.50 L455.32,103.80 L455.95,103.10 L456.57,102.40 L457.18,101.70 L457.78,101.00 L458.37,100.30 L458.95,99.60 L459.52,98.90 L460.08,98.20 L460.62,97.50 L461.16,96.80 L461.68,96.10 L462.19,95.40 L462.69,94.70 L463.18,94.00 L463.65,93.30 L464.11,92.60 L464.56,91.90 L465.00,91.20 L465.42,90.50 L465.84,89.80 L466.23,89.10 L466.62,88.40 L466.99,87.70 L467.35,87.00 L467.69,86.30 L468.02,85.60 L468.33,84.90 L468.63,84.20 L468.92,83.50 L469.19,82.80 L469.45,82.10 L469.69,81.40 L469.92,80.70 L470.13,80.00 L470.32,79.30 L470.50,78.60 L470.67,77.90 L470.81,77.20 L470.95,76.50 L471.06,75.80 L471.16,75.10 L471.24,74.40 L471.31,73.70 L471.36,73.00 L471.39,72.30 L471.40,71.60 L471.40,71.40" stroke="#e6151d" stroke-width="1.5" fill="none" stroke-linejoin="round" stroke-linecap="butt"/>
<path d="M45.20,222.50v-6.0 M45.20,16.60v6.0 M56.39,222.50v-3.0 M56.39,16.60v3.0 M67.58,222.50v-3.0 M67.58,16.60v3.0 M78.77,222.50v-3.0 M78.77,16.60v3.0 M89.96,222.50v-6.0 M89.96,16.60v6.0 M101.15,222.50v-3.0 M101.15,16.60v3.0 M112.34,222.50v-3.0 M112.34,16.60v3.0 M123.53,222.50v-3.0 M123.53,16.60v3.0 M134.72,222.50v-6.0 M134.72,16.60v6.0 M145.91,222.50v-3.0 M145.91,16.60v3.0 M157.10,222.50v-3.0 M157.10,16.60v3.0 M168.29,222.50v-3.0 M168.29,16.60v3.0 M179.48,222.50v-6.0 M179.48,16.60v6.0 M190.67,222.50v-3.0 M190.67,16.60v3.0 M201.86,222.50v-3.0 M201.86,16.60v3.0 M213.05,222.50v-3.0 M213.05,16.60v3.0 M224.24,222.50v-6.0 M224.24,16.60v6.0 M235.43,222.50v-3.0 M235.43,16.60v3.0 M246.62,222.50v-3.0 M246.62,16.60v3.0 M257.81,222.50v-3.0 M257.81,16.60v3.0 M269.00,222.50v-6.0 M269.00,16.60v6.0 M45.20,222.50h6.0 M269.00,222.50h-6.0 M45.20,210.10h3.0 M269.00,210.10h-3.0 M45.20,202.85h3.0 M269.00,202.85h-3.0 M45.20,197.71h3.0 M269.00,197.71h-3.0 M45.20,193.72h3.0 M269.00,193.72h-3.0 M45.20,190.46h3.0 M269.00,190.46h-3.0 M45.20,187.70h3.0 M269.00,187.70h-3.0 M45.20,185.31h3.0 M269.00,185.31h-3.0 M45.20,183.20h3.0 M269.00,183.20h-3.0 M45.20,181.32h6.0 M269.00,181.32h-6.0 M45.20,168.92h3.0 M269.00,168.92h-3.0 M45.20,161.67h3.0 M269.00,161.67h-3.0 M45.20,156.53h3.0 M269.00,156.53h-3.0 M45.20,152.54h3.0 M269.00,152.54h-3.0 M45.20,149.28h3.0 M269.00,149.28h-3.0 M45.20,146.52h3.0 M269.00,146.52h-3.0 M45.20,144.13h3.0 M269.00,144.13h-3.0 M45.20,142.02h3.0 M269.00,142.02h-3.0 M45.20,140.14h6.0 M269.00,140.14h-6.0 M45.20,127.74h3.0 M269.00,127.74h-3.0 M45.20,120.49h3.0 M269.00,120.49h-3.0 M45.20,115.35h3.0 M269.00,115.35h-3.0 M45.20,111.36h3.0 M269.00,111.36h-3.0 M45.20,108.10h3.0 M269.00,108.10h-3.0 M45.20,105.34h3.0 M269.00,105.34h-3.0 M45.20,102.95h3.0 M269.00,102.95h-3.0 M45.20,100.84h3.0 M269.00,100.84h-3.0 M45.20,98.96h6.0 M269.00,98.96h-6.0 M45.20,86.56h3.0 M269.00,86.56h-3.0 M45.20,79.31h3.0 M269.00,79.31h-3.0 M45.20,74.17h3.0 M269.00,74.17h-3.0 M45.20,70.18h3.0 M269.00,70.18h-3.0 M45.20,66.92h3.0 M269.00,66.92h-3.0 M45.20,64.16h3.0 M269.00,64.16h-3.0 M45.20,61.77h3.0 M269.00,61.77h-3.0 M45.20,59.66h3.0 M269.00,59.66h-3.0 M45.20,57.78h6.0 M269.00,57.78h-6.0 M45.20,45.38h3.0 M269.00,45.38h-3.0 M45.20,38.13h3.0 M269.00,38.13h-3.0 M45.20,32.99h3.0 M269.00,32.99h-3.0 M45.20,29.00h3.0 M269.00,29.00h-3.0 M45.20,25.74h3.0 M269.00,25.74h-3.0 M45.20,22.98h3.0 M269.00,22.98h-3.0 M45.20,20.59h3.0 M269.00,20.59h-3.0 M45.20,18.48h3.0 M269.00,18.48h-3.0" stroke="#000" stroke-width="0.9" fill="none"/>
<rect x="45.2" y="16.6" width="223.80" height="205.90" fill="none" stroke="#000" stroke-width="1.3"/>
<path d="M322.60,219.30v-6.0 M322.60,14.90v6.0 M333.77,219.30v-3.0 M333.77,14.90v3.0 M344.94,219.30v-3.0 M344.94,14.90v3.0 M356.11,219.30v-3.0 M356.11,14.90v3.0 M367.28,219.30v-6.0 M367.28,14.90v6.0 M378.45,219.30v-3.0 M378.45,14.90v3.0 M389.62,219.30v-3.0 M389.62,14.90v3.0 M400.79,219.30v-3.0 M400.79,14.90v3.0 M411.96,219.30v-6.0 M411.96,14.90v6.0 M423.13,219.30v-3.0 M423.13,14.90v3.0 M434.30,219.30v-3.0 M434.30,14.90v3.0 M445.47,219.30v-3.0 M445.47,14.90v3.0 M456.64,219.30v-6.0 M456.64,14.90v6.0 M467.81,219.30v-3.0 M467.81,14.90v3.0 M478.98,219.30v-3.0 M478.98,14.90v3.0 M490.15,219.30v-3.0 M490.15,14.90v3.0 M501.32,219.30v-6.0 M501.32,14.90v6.0 M512.49,219.30v-3.0 M512.49,14.90v3.0 M523.66,219.30v-3.0 M523.66,14.90v3.0 M534.83,219.30v-3.0 M534.83,14.90v3.0 M546.00,219.30v-6.0 M546.00,14.90v6.0 M322.60,219.30h6.0 M546.00,219.30h-6.0 M322.60,203.92h3.0 M546.00,203.92h-3.0 M322.60,194.92h3.0 M546.00,194.92h-3.0 M322.60,188.53h3.0 M546.00,188.53h-3.0 M322.60,183.58h3.0 M546.00,183.58h-3.0 M322.60,179.54h3.0 M546.00,179.54h-3.0 M322.60,176.12h3.0 M546.00,176.12h-3.0 M322.60,173.15h3.0 M546.00,173.15h-3.0 M322.60,170.54h3.0 M546.00,170.54h-3.0 M322.60,168.20h6.0 M546.00,168.20h-6.0 M322.60,152.82h3.0 M546.00,152.82h-3.0 M322.60,143.82h3.0 M546.00,143.82h-3.0 M322.60,137.43h3.0 M546.00,137.43h-3.0 M322.60,132.48h3.0 M546.00,132.48h-3.0 M322.60,128.44h3.0 M546.00,128.44h-3.0 M322.60,125.02h3.0 M546.00,125.02h-3.0 M322.60,122.05h3.0 M546.00,122.05h-3.0 M322.60,119.44h3.0 M546.00,119.44h-3.0 M322.60,117.10h6.0 M546.00,117.10h-6.0 M322.60,101.72h3.0 M546.00,101.72h-3.0 M322.60,92.72h3.0 M546.00,92.72h-3.0 M322.60,86.33h3.0 M546.00,86.33h-3.0 M322.60,81.38h3.0 M546.00,81.38h-3.0 M322.60,77.34h3.0 M546.00,77.34h-3.0 M322.60,73.92h3.0 M546.00,73.92h-3.0 M322.60,70.95h3.0 M546.00,70.95h-3.0 M322.60,68.34h3.0 M546.00,68.34h-3.0 M322.60,66.00h6.0 M546.00,66.00h-6.0 M322.60,50.62h3.0 M546.00,50.62h-3.0 M322.60,41.62h3.0 M546.00,41.62h-3.0 M322.60,35.23h3.0 M546.00,35.23h-3.0 M322.60,30.28h3.0 M546.00,30.28h-3.0 M322.60,26.24h3.0 M546.00,26.24h-3.0 M322.60,22.82h3.0 M546.00,22.82h-3.0 M322.60,19.85h3.0 M546.00,19.85h-3.0 M322.60,17.24h3.0 M546.00,17.24h-3.0" stroke="#000" stroke-width="0.9" fill="none"/>
<rect x="322.6" y="14.9" width="223.40" height="204.40" fill="none" stroke="#000" stroke-width="1.3"/>
<text x="42.3" y="226.40" text-anchor="end" font-size="9">10<tspan font-size="5.6" dy="-3.4">&#8722;4</tspan></text>
<text x="42.3" y="185.22" text-anchor="end" font-size="9">10<tspan font-size="5.6" dy="-3.4">&#8722;3</tspan></text>
<text x="42.3" y="144.04" text-anchor="end" font-size="9">10<tspan font-size="5.6" dy="-3.4">&#8722;2</tspan></text>
<text x="42.3" y="102.86" text-anchor="end" font-size="9">10<tspan font-size="5.6" dy="-3.4">&#8722;1</tspan></text>
<text x="42.3" y="60.78" text-anchor="end" font-size="8.2">1</text>
<text x="42.3" y="19.60" text-anchor="end" font-size="8.2">10</text>
<text x="320.2" y="223.20" text-anchor="end" font-size="9">10<tspan font-size="5.6" dy="-3.4">&#8722;4</tspan></text>
<text x="320.2" y="172.10" text-anchor="end" font-size="9">10<tspan font-size="5.6" dy="-3.4">&#8722;3</tspan></text>
<text x="320.2" y="121.00" text-anchor="end" font-size="9">10<tspan font-size="5.6" dy="-3.4">&#8722;2</tspan></text>
<text x="320.2" y="69.90" text-anchor="end" font-size="9">10<tspan font-size="5.6" dy="-3.4">&#8722;1</tspan></text>
<text x="320.2" y="17.90" text-anchor="end" font-size="8.2">1</text>
<text x="45.20" y="231.00" text-anchor="middle" font-size="8.2">0</text>
<text x="89.96" y="231.00" text-anchor="middle" font-size="8.2">0.2</text>
<text x="134.72" y="231.00" text-anchor="middle" font-size="8.2">0.4</text>
<text x="179.48" y="231.00" text-anchor="middle" font-size="8.2">0.6</text>
<text x="224.24" y="231.00" text-anchor="middle" font-size="8.2">0.8</text>
<text x="269.00" y="231.00" text-anchor="middle" font-size="8.2">1</text>
<text x="322.60" y="228.30" text-anchor="middle" font-size="8.2">0</text>
<text x="367.28" y="228.30" text-anchor="middle" font-size="8.2">0.2</text>
<text x="411.96" y="228.30" text-anchor="middle" font-size="8.2">0.4</text>
<text x="456.64" y="228.30" text-anchor="middle" font-size="8.2">0.6</text>
<text x="501.32" y="228.30" text-anchor="middle" font-size="8.2">0.8</text>
<text x="546.00" y="228.30" text-anchor="middle" font-size="8.2">1</text>
<text x="268.6" y="248.0" text-anchor="end" font-size="13.1">Signal efficiency</text>
<text x="545.4" y="245.8" text-anchor="end" font-size="13.1">Signal efficiency</text>
<text transform="translate(12.6,145.8) rotate(-90)" font-size="12.8" textLength="128.3" lengthAdjust="spacingAndGlyphs">Background efficiency</text>
<text transform="translate(289.8,144.9) rotate(-90)" font-size="12.8" textLength="130.2" lengthAdjust="spacingAndGlyphs">Background efficiency</text>
<text x="222.6" y="12.5" font-size="11.6" textLength="47" lengthAdjust="spacingAndGlyphs">(13 TeV)</text>
<text x="499.7" y="10.9" font-size="11.6" textLength="47" lengthAdjust="spacingAndGlyphs">(13 TeV)</text>
<text x="54.6" y="34.9" font-size="14.8" font-weight="bold">CMS</text>
<text x="55.6" y="51.6" font-size="11" font-style="italic">Simulation</text>
<text x="332.1" y="32.8" font-size="14.8" font-weight="bold">CMS</text>
<text x="333.0" y="49.3" font-size="11" font-style="italic">Simulation</text>
<text class="tb" x="56.2" y="64.5" font-size="8.2" font-weight="bold" textLength="106.2" lengthAdjust="spacingAndGlyphs">Top quark vs. QCD multijet</text>
<text class="ib" x="56.30" y="77.90" font-size="6.7" font-weight="bold">1000</text>
<text class="ib" x="72.60" y="77.90" font-size="6.7" font-weight="bold">&lt;</text>
<text class="ib" x="78.60" y="77.90" font-size="6.7" font-weight="bold">p</text>
<text class="ib" x="84.30" y="73.30" font-size="5.1" font-weight="bold">gen</text>
<text class="ib" x="84.30" y="80.50" font-size="5.1" font-weight="bold">T</text>
<text class="ib" x="94.50" y="77.90" font-size="6.7" font-weight="bold">&lt;</text>
<text class="ib" x="100.50" y="77.90" font-size="6.7" font-weight="bold">1500</text>
<text class="ib" x="116.90" y="77.90" font-size="6.7" font-weight="bold">GeV,</text>
<text class="ib" x="134.60" y="77.90" font-size="6.7" font-weight="normal">|&#951;</text>
<text class="ib" x="140.00" y="74.10" font-size="5.1" font-weight="bold">gen</text>
<text class="ib" x="149.30" y="77.90" font-size="6.7" font-weight="normal">|</text>
<text class="ib" x="152.80" y="77.90" font-size="6.7" font-weight="bold">&lt;</text>
<text class="ib" x="158.70" y="77.90" font-size="6.7" font-weight="bold">2.4</text>
<text class="ib" x="56.90" y="89.80" font-size="6.7" font-weight="bold">105</text>
<text class="ib" x="69.20" y="89.80" font-size="6.7" font-weight="bold">&lt;</text>
<text class="ib" x="75.40" y="89.80" font-size="6.7" font-weight="bold">m</text>
<text class="ib" x="80.70" y="86.10" font-size="5.1" font-weight="bold">AK8</text>
<text class="ib" x="80.70" y="92.30" font-size="5.1" font-weight="bold">SD</text>
<text class="ib" x="92.90" y="89.80" font-size="6.7" font-weight="bold">&lt;</text>
<text class="ib" x="98.60" y="89.80" font-size="6.7" font-weight="bold">210</text>
<text class="ib" x="111.60" y="89.80" font-size="6.7" font-weight="bold">GeV</text>
<text class="ib" x="56.90" y="101.70" font-size="6.7" font-weight="bold">110</text>
<text class="ib" x="69.20" y="101.70" font-size="6.7" font-weight="bold">&lt;</text>
<text class="ib" x="75.40" y="101.70" font-size="6.7" font-weight="bold">m</text>
<text class="ib" x="80.70" y="98.00" font-size="5.1" font-weight="bold">CA15</text>
<text class="ib" x="80.70" y="104.20" font-size="5.1" font-weight="bold">SD</text>
<text class="ib" x="95.80" y="101.70" font-size="6.7" font-weight="bold">&lt;</text>
<text class="ib" x="101.50" y="101.70" font-size="6.7" font-weight="bold">210</text>
<text class="ib" x="114.60" y="101.70" font-size="6.7" font-weight="bold">GeV</text>
<text class="ib" x="56.90" y="113.60" font-size="6.7" font-weight="bold">140</text>
<text class="ib" x="69.60" y="113.60" font-size="6.7" font-weight="bold">&lt;</text>
<text class="ib" x="75.40" y="113.60" font-size="6.7" font-weight="bold">m</text>
<text class="ib" x="81.00" y="116.00" font-size="5.1" font-weight="bold">HOTVR</text>
<text class="ib" x="100.40" y="113.60" font-size="6.7" font-weight="bold">&lt;</text>
<text class="ib" x="105.40" y="113.60" font-size="6.7" font-weight="bold">220</text>
<text class="ib" x="118.50" y="113.60" font-size="6.7" font-weight="bold">GeV</text>
<text class="tb" x="334.2" y="62.7" font-size="8.2" font-weight="bold" textLength="115.2" lengthAdjust="spacingAndGlyphs">Higgs boson vs. QCD multijet</text>
<text class="ib" x="334.10" y="75.70" font-size="6.7" font-weight="bold">1000</text>
<text class="ib" x="350.40" y="75.70" font-size="6.7" font-weight="bold">&lt;</text>
<text class="ib" x="356.40" y="75.70" font-size="6.7" font-weight="bold">p</text>
<text class="ib" x="362.10" y="71.10" font-size="5.1" font-weight="bold">gen</text>
<text class="ib" x="362.10" y="78.30" font-size="5.1" font-weight="bold">T</text>
<text class="ib" x="372.30" y="75.70" font-size="6.7" font-weight="bold">&lt;</text>
<text class="ib" x="378.30" y="75.70" font-size="6.7" font-weight="bold">1500</text>
<text class="ib" x="394.70" y="75.70" font-size="6.7" font-weight="bold">GeV,</text>
<text class="ib" x="412.40" y="75.70" font-size="6.7" font-weight="normal">|&#951;</text>
<text class="ib" x="417.80" y="71.90" font-size="5.1" font-weight="bold">gen</text>
<text class="ib" x="427.10" y="75.70" font-size="6.7" font-weight="normal">|</text>
<text class="ib" x="430.60" y="75.70" font-size="6.7" font-weight="bold">&lt;</text>
<text class="ib" x="436.50" y="75.70" font-size="6.7" font-weight="bold">2.4</text>
<text class="ib" x="333.50" y="87.20" font-size="6.7" font-weight="bold">90</text>
<text class="ib" x="343.70" y="87.20" font-size="6.7" font-weight="bold">&lt;</text>
<text class="ib" x="348.80" y="87.20" font-size="6.7" font-weight="bold">m</text>
<text class="ib" x="354.60" y="83.50" font-size="5.1" font-weight="bold">AK8</text>
<text class="ib" x="354.60" y="89.70" font-size="5.1" font-weight="bold">SD</text>
<text class="ib" x="366.60" y="87.20" font-size="6.7" font-weight="bold">&lt;</text>
<text class="ib" x="372.30" y="87.20" font-size="6.7" font-weight="bold">140</text>
<text class="ib" x="385.00" y="87.20" font-size="6.7" font-weight="bold">GeV</text>
<line x1="197.9" y1="123.90" x2="206.3" y2="123.90" stroke="#2f72c0" stroke-width="1.5"/>
<text x="207.4" y="127.00" font-size="8.5">DeepAK8</text>
<line x1="197.9" y1="134.56" x2="206.3" y2="134.56" stroke="#2aa52a" stroke-width="1.5" stroke-dasharray="2 1.2"/>
<text x="207.4" y="137.66" font-size="8.5">DeepAK8-MD</text>
<line x1="197.9" y1="145.22" x2="206.3" y2="145.22" stroke="#f283c4" stroke-width="1.5"/>
<text x="207.4" y="148.32" font-size="8.5">ImageTop</text>
<line x1="197.9" y1="155.88" x2="206.3" y2="155.88" stroke="#123d12" stroke-width="1.5" stroke-dasharray="3 2.4"/>
<text x="207.4" y="158.98" font-size="8.5">ImageTop-MD</text>
<line x1="197.9" y1="166.54" x2="206.3" y2="166.54" stroke="#e6151d" stroke-width="1.5"/>
<text x="207.4" y="169.64" font-size="8.5">m<tspan font-size="5.4" dy="1.8">SD</tspan><tspan dy="-1.8"> + &#964;</tspan><tspan font-size="5.4" dy="1.8">32</tspan><tspan dy="-1.8"></tspan></text>
<line x1="197.9" y1="177.20" x2="206.3" y2="177.20" stroke="#f58220" stroke-width="1.5" stroke-dasharray="2.5 1 1 1"/>
<text x="207.4" y="180.30" font-size="8.5">m<tspan font-size="5.4" dy="1.8">SD</tspan><tspan dy="-1.8"> + &#964;</tspan><tspan font-size="5.4" dy="1.8">32</tspan><tspan dy="-1.8"> + b</tspan></text>
<line x1="197.9" y1="187.86" x2="206.3" y2="187.86" stroke="#9445c4" stroke-width="1.5"/>
<text x="207.4" y="190.96" font-size="8.5">BEST</text>
<line x1="197.9" y1="198.52" x2="206.3" y2="198.52" stroke="#a0a0a0" stroke-width="1.5"/>
<text x="207.4" y="201.62" font-size="8.5">HOTVR</text>
<line x1="197.9" y1="209.18" x2="206.3" y2="209.18" stroke="#b8561e" stroke-width="1.5"/>
<text x="207.4" y="212.28" font-size="8.5">N<tspan font-size="5.4" dy="1.8">3</tspan><tspan dy="-1.8">-BDT (CA15)</tspan></text>
<line x1="474.6" y1="173.90" x2="483.0" y2="173.90" stroke="#2f72c0" stroke-width="1.5"/>
<text x="484.0" y="177.00" font-size="8.5">DeepAK8</text>
<line x1="474.6" y1="184.70" x2="483.0" y2="184.70" stroke="#2aa52a" stroke-width="1.5" stroke-dasharray="2 1.2"/>
<text x="484.0" y="187.80" font-size="8.5">DeepAK8-MD</text>
<line x1="474.6" y1="195.50" x2="483.0" y2="195.50" stroke="#9445c4" stroke-width="1.5"/>
<text x="484.0" y="198.60" font-size="8.5">BEST</text>
<line x1="474.6" y1="206.30" x2="483.0" y2="206.30" stroke="#e6151d" stroke-width="1.5"/>
<text x="484.0" y="209.40" font-size="8.5">double-b</text>
<text class="serif" x="127.9" y="268.9" font-size="12">(<tspan font-weight="bold">a</tspan>)</text>
<text class="serif" x="404.4" y="268.9" font-size="12">(<tspan font-weight="bold">b</tspan>)</text>
</svg></body></html>
